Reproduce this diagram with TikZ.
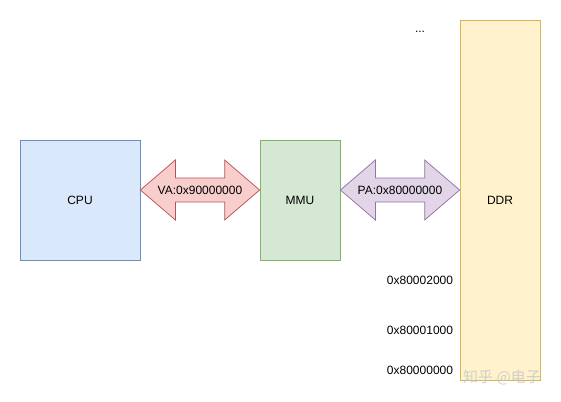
\documentclass[tikz,border=0pt]{standalone}
\usepackage{fontspec}
\setmainfont{Liberation Sans}
\newfontfamily\cjk{Noto Sans CJK SC}
\usetikzlibrary{calc}
\definecolor{cpufill}{HTML}{DAE8FC}
\definecolor{cpuline}{HTML}{6C8EBF}
\definecolor{mmufill}{HTML}{D5E8D4}
\definecolor{mmuline}{HTML}{82B366}
\definecolor{ddrfill}{HTML}{FFF2CC}
\definecolor{ddrline}{HTML}{D6B656}
\definecolor{vafill}{HTML}{F8CECC}
\definecolor{valine}{HTML}{B85450}
\definecolor{pafill}{HTML}{E1D5E7}
\definecolor{paline}{HTML}{9673A6}
\tikzset{
  block/.style={draw,line width=0.75pt,inner sep=0pt},
  bus/.style={draw,line width=0.75pt,line join=miter},
  addr/.style={font=\fontsize{12}{14}\selectfont,inner sep=0pt}
}
% double arrow between two points: #1 style, #2 left tip, #3 right tip
\newcommand{\busarrow}[3]{%
  \draw[bus,#1] (#2) -- ++(35,-30) -- ++(0,18) -- ($(#3)+(-35,-12)$)
    -- ++(0,-18) -- (#3) -- ++(-35,30) -- ++(0,-18) -- ($(#2)+(35,12)$)
    -- ++(0,18) -- cycle;}
\begin{document}
\begin{tikzpicture}[x=1pt,y=-1pt,font=\fontsize{12}{14}\selectfont]
\useasboundingbox[fill=white] (0,0) rectangle (561,401);
% the three boxes
\node[block,fill=cpufill,draw=cpuline,minimum width=120pt,minimum height=120pt] (cpu) at (80,200) {CPU};
\node[block,fill=mmufill,draw=mmuline,minimum width=80pt,minimum height=120pt] (mmu) at (300,200) {MMU};
\node[block,fill=ddrfill,draw=ddrline,minimum width=80pt,minimum height=360pt] (ddr) at (500,200) {DDR};
% the two buses
\coordinate (cpuR) at ([yshift=10pt]cpu.east);
\coordinate (mmuL) at ([yshift=10pt]mmu.west);
\coordinate (mmuR) at ([yshift=10pt]mmu.east);
\coordinate (ddrL) at ([yshift=10pt]ddr.west);
\busarrow{fill=vafill,draw=valine}{cpuR}{mmuL}
\busarrow{fill=pafill,draw=paline}{mmuR}{ddrL}
\node[inner sep=0pt] (va) at ($(cpuR)!0.5!(mmuL)$) {VA:0x90000000};
\node[inner sep=0pt] (pa) at ($(mmuR)!0.5!(ddrL)$) {PA:0x80000000};
% addresses of the DDR
\node[addr] (dots) at (420,32) {...};
\node[addr] (a2) at (420,280) {0x80002000};
\node[addr] (a1) at (420,330) {0x80001000};
\node[addr] (a0) at (420,370) {0x80000000};
% watermark
\node[inner sep=0pt,font=\cjk\fontsize{15}{17}\selectfont,text=gray!45,opacity=0.8] (mark) at (502,377) {知乎 @电子};
\end{tikzpicture}
\end{document}
